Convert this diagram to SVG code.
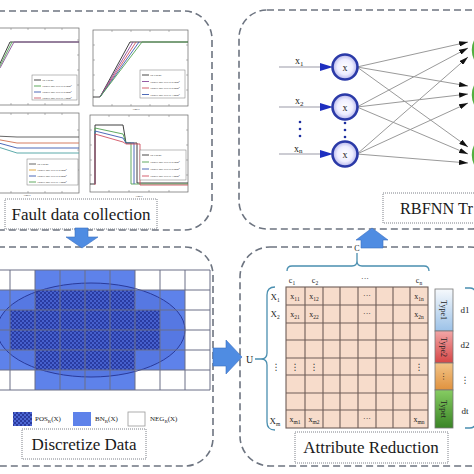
<svg xmlns="http://www.w3.org/2000/svg" width="474" height="474" viewBox="0 0 474 474">
<defs>
<style>
.panel{fill:none;stroke:#6d7480;stroke-width:1.6;stroke-dasharray:7 4}
.lab{fill:#fff;stroke:#7c8088;stroke-width:1;stroke-dasharray:1 1}
.big{font-family:"Liberation Serif",serif;font-size:17px;fill:#1a1a1a;text-anchor:middle}
.sm{font-family:"Liberation Serif",serif;fill:#222}
.ax{fill:#fff;stroke:#666;stroke-width:0.7}
.tk{stroke:#777;stroke-width:0.5;fill:none}
.lg{fill:#fff;stroke:#777;stroke-width:0.5}
.lt{font-family:"Liberation Serif",serif;font-size:2.6px;fill:#333}
.pl{fill:none;stroke-width:0.9}
.barrow{fill:#4f8ce2;stroke:#3a6fc0;stroke-width:0.6}
.in{stroke:#9a9aa8;stroke-width:1.2}
.out{stroke:#9a9a9a;stroke-width:1;marker-end:url(#ah)}
.neuron{fill:url(#ng);stroke:#2b3aa8;stroke-width:2.6}
.cell{fill:#f7dccb;stroke:#6e5d58;stroke-width:1.1}
.mt{font-family:"Liberation Serif",serif;font-size:8px;fill:#222;text-anchor:middle}
.dots{font-family:"DejaVu Sans",sans-serif;font-size:9px;fill:#333;text-anchor:middle}
.bn{fill:#5e82ea}
.pos{fill:url(#pos)}
</style>
<marker id="ah" viewBox="0 0 10 6" refX="10" refY="3" markerWidth="9" markerHeight="5.4" orient="auto" markerUnits="userSpaceOnUse"><path d="M0,0 L10,3 L0,6 z" fill="#111"/></marker>
<radialGradient id="ng"><stop offset="0" stop-color="#ffffff"/><stop offset="0.6" stop-color="#eeeeff"/><stop offset="1" stop-color="#b4b4ea"/></radialGradient>
<pattern id="pos" width="4" height="4" patternUnits="userSpaceOnUse"><rect width="4" height="4" fill="#4c66d2"/><rect width="2" height="2" fill="#2a3a9e"/><rect x="2" y="2" width="2" height="2" fill="#2a3a9e"/></pattern>
<linearGradient id="t1" x1="0" y1="0" x2="0" y2="1"><stop offset="0" stop-color="#f6f9fc"/><stop offset="1" stop-color="#9cc2e8"/></linearGradient>
<linearGradient id="t2" x1="0" y1="0" x2="0" y2="1"><stop offset="0" stop-color="#f2a6a6"/><stop offset="1" stop-color="#d64646"/></linearGradient>
<linearGradient id="t3" x1="0" y1="0" x2="0" y2="1"><stop offset="0" stop-color="#f2c488"/><stop offset="1" stop-color="#e0923e"/></linearGradient>
<linearGradient id="t4" x1="0" y1="0" x2="0" y2="1"><stop offset="0" stop-color="#86cc62"/><stop offset="1" stop-color="#3a8426"/></linearGradient>
</defs>
<rect width="474" height="474" fill="#fff"/>

<!-- Panel 1: Fault data collection -->
<g id="fault-data-collection">
<rect class="panel" x="-30" y="11" width="242" height="219" rx="28"/>
<!-- chart 1 -->
<rect class="ax" x="-20" y="28" width="99" height="77"/>
<path class="tk" d="M11,105v-2M28,105v-2M45,105v-2M62,105v-2M11,28v2M28,28v2M45,28v2M62,28v2M79,40h-2M79,55h-2M79,70h-2M79,85h-2"/>
<polyline class="pl" stroke="#2a2a2a" points="-4,72 10,42 79,42"/>
<polyline class="pl" stroke="#4aa04a" points="-2,70 12,42"/>
<polyline class="pl" stroke="#8a5a9a" stroke-width="1.4" points="0,68 14,42 79,42"/>
<rect class="lg" x="32" y="75" width="45" height="25"/>
<path class="pl" stroke="#333" d="M34,80h7"/><text class="lt" x="42" y="81">No leakage</text>
<path class="pl" stroke="#4aa04a" d="M34,86h7"/><text class="lt" x="42" y="87">Throttle hole area is 0.6mm²</text>
<path class="pl" stroke="#3a5ab0" d="M34,92h7"/><text class="lt" x="42" y="93">Throttle hole area is 0.8mm²</text>
<path class="pl" stroke="#c86070" d="M34,98h7"/><text class="lt" x="42" y="99">Throttle hole area is 1.2mm²</text>
<!-- chart 2 -->
<rect class="ax" x="93" y="30" width="95" height="76"/>
<path class="tk" d="M112,106v-2M131,106v-2M150,106v-2M169,106v-2M112,30v2M131,30v2M150,30v2M169,30v2M93,45h2M93,60h2M93,75h2M93,90h2M188,45h-2M188,60h-2M188,75h-2M188,90h-2"/>
<polyline class="pl" stroke="#2a2a2a" points="93,97 100,97 130,42 188,42"/>
<polyline class="pl" stroke="#8a4a9a" points="100,97 133,42"/>
<polyline class="pl" stroke="#d05060" points="100,97 136,42"/>
<polyline class="pl" stroke="#3a5ab0" points="100,97 139,42"/>
<polyline class="pl" stroke="#50a050" points="100,97 142,42 188,42"/>
<rect class="lg" x="140" y="70" width="45" height="28"/>
<path class="pl" stroke="#333" d="M142,75h7"/><text class="lt" x="150" y="76">No leakage</text>
<path class="pl" stroke="#8a4a9a" d="M142,81.5h7"/><text class="lt" x="150" y="82.5">Throttle hole area is 0.6mm²</text>
<path class="pl" stroke="#d05060" d="M142,88h7"/><text class="lt" x="150" y="89">Throttle hole area is 0.8mm²</text>
<path class="pl" stroke="#3a5ab0" d="M142,94.5h7"/><text class="lt" x="150" y="95.5">Throttle hole area is 1.2mm²</text>
<text class="lt" x="136" y="110" text-anchor="middle">Time/s</text>
<!-- chart 3 -->
<rect class="ax" x="-20" y="113" width="99" height="80"/>
<path class="tk" d="M11,193v-2M28,193v-2M45,193v-2M62,193v-2M11,113v2M28,113v2M45,113v2M62,113v2M79,130h-2M79,150h-2M79,170h-2"/>
<polyline class="pl" stroke="#555" points="-5,136 17,137 79,137"/>
<polyline class="pl" stroke="#d07050" points="-5,139 17,143 79,143"/>
<polyline class="pl" stroke="#3a5ab0" points="-5,142 17,148 79,148"/>
<polyline class="pl" stroke="#4aa0a0" points="-5,146 17,153 79,153"/>
<rect class="lg" x="27" y="159" width="51" height="26"/>
<path class="pl" stroke="#555" d="M29,164h7"/><text class="lt" x="37" y="165">No leakage</text>
<path class="pl" stroke="#e0a030" d="M29,170h7"/><text class="lt" x="37" y="171">Throttle hole area is 0.6mm²</text>
<path class="pl" stroke="#3a5ab0" d="M29,176h7"/><text class="lt" x="37" y="177">Throttle hole area is 0.8mm²</text>
<path class="pl" stroke="#50a050" d="M29,182h7"/><text class="lt" x="37" y="183">Throttle hole area is 1.2mm²</text>
<text class="lt" x="27" y="196" text-anchor="middle">Time/s</text>
<!-- chart 4 -->
<rect class="ax" x="90" y="115" width="98" height="77"/>
<path class="tk" d="M109,192v-2M129,192v-2M149,192v-2M169,192v-2M109,115v2M129,115v2M149,115v2M169,115v2M90,130h2M90,145h2M90,160h2M90,175h2M188,130h-2M188,145h-2M188,160h-2M188,175h-2"/>
<polyline class="pl" stroke="#2a2a2a" points="90,184 95,184 95,125 123,125 126,143 137,143 137,183 188,183"/>
<polyline class="pl" stroke="#50a050" points="95,184 95,128 123,134 126,143 131,143 131,184 188,184"/>
<polyline class="pl" stroke="#3a5ab0" points="95,184 95,131 123,138 126,143 134,143 134,184"/>
<polyline class="pl" stroke="#d05060" points="95,185 95,134 123,142 126,144 140,144 140,185 188,185"/>
<rect class="lg" x="140" y="150" width="46" height="30"/>
<path class="pl" stroke="#333" d="M142,155h7"/><text class="lt" x="150" y="156">No leakage</text>
<path class="pl" stroke="#50a050" d="M142,162h7"/><text class="lt" x="150" y="163">Throttle hole area is 0.6mm²</text>
<path class="pl" stroke="#3a5ab0" d="M142,169h7"/><text class="lt" x="150" y="170">Throttle hole area is 0.8mm²</text>
<path class="pl" stroke="#d05060" d="M142,176h7"/><text class="lt" x="150" y="177">Throttle hole area is 1.2mm²</text>
<text class="lt" x="139" y="197" text-anchor="middle">Time/s</text>
<rect class="lab" x="5" y="199" width="152" height="30"/>
<text class="big" x="81" y="220">Fault data collection</text>
</g>

<!-- Panel 2: RBFNN -->
<g id="rbfnn-training">
<rect class="panel" x="239" y="10" width="260" height="219" rx="28"/>
<circle cx="493" cy="50" r="20" fill="#e4f6dc" stroke="#52b040" stroke-width="2.5"/>
<circle cx="493" cy="95" r="20" fill="#e4f6dc" stroke="#52b040" stroke-width="2.5"/>
<circle cx="493" cy="155" r="20" fill="#e4f6dc" stroke="#52b040" stroke-width="2.5"/>
<g id="rbf-connectors">
<line class="out" x1="357" y1="67" x2="468" y2="42"/>
<line class="out" x1="357" y1="67" x2="468" y2="86"/>
<line class="out" x1="357" y1="67" x2="468" y2="147"/>
<line class="out" x1="357" y1="107" x2="468" y2="48"/>
<line class="out" x1="357" y1="107" x2="468" y2="94"/>
<line class="out" x1="357" y1="107" x2="468" y2="154"/>
<line class="out" x1="357" y1="154" x2="468" y2="57"/>
<line class="out" x1="357" y1="154" x2="468" y2="103"/>
<line class="out" x1="357" y1="154" x2="468" y2="163"/>
<line class="in" x1="279" y1="67" x2="322" y2="67"/>
<line class="in" x1="279" y1="107" x2="322" y2="107"/>
<line class="in" x1="279" y1="154" x2="322" y2="154"/>
<path d="M320,63 L333,67 L320,71 z M320,103 L333,107 L320,111 z M320,150 L333,154 L320,158 z" fill="#1e2fc0"/>
</g>
<g id="n1"><circle class="neuron" cx="345" cy="67" r="12.5"/><text class="sm" x="345" y="70.5" font-size="10" text-anchor="middle">x</text></g>
<g id="n2"><circle class="neuron" cx="345" cy="107" r="12.5"/><text class="sm" x="345" y="110.5" font-size="10" text-anchor="middle">x</text></g>
<g id="n3"><circle class="neuron" cx="345" cy="154" r="12.5"/><text class="sm" x="345" y="157.5" font-size="10" text-anchor="middle">x</text></g>
<text class="sm" x="295" y="64" font-size="10">x<tspan font-size="7" dy="2">1</tspan></text>
<text class="sm" x="295" y="104" font-size="10">x<tspan font-size="7" dy="2">2</tspan></text>
<text class="sm" x="294" y="152" font-size="10">x<tspan font-size="7" dy="1">n</tspan></text>
<g fill="#1e2fa0"><circle cx="300" cy="122" r="1.3"/><circle cx="300" cy="129" r="1.3"/><circle cx="300" cy="136" r="1.3"/><circle cx="345" cy="123" r="1.3"/><circle cx="345" cy="130" r="1.3"/><circle cx="345" cy="137" r="1.3"/></g>
<rect class="lab" x="383" y="193" width="100" height="30"/>
<text class="big" x="400" y="214" style="font-size:16.3px;text-anchor:start">RBFNN Tr</text>
</g>

<!-- Panel 3: Discretize Data -->
<g id="discretize-data">
<rect class="panel" x="-30" y="247" width="243" height="219" rx="28"/>
<rect x="-15" y="270" width="225" height="120" fill="#fff"/>
<rect class="bn" x="35" y="270" width="100" height="20"/>
<rect class="bn" x="-15" y="290" width="50" height="20"/>
<rect class="pos" x="35" y="290" width="100" height="20"/>
<rect class="bn" x="135" y="290" width="50" height="20"/>
<rect class="bn" x="-15" y="310" width="25" height="40"/>
<rect class="pos" x="10" y="310" width="150" height="40"/>
<rect class="bn" x="160" y="310" width="25" height="40"/>
<rect class="bn" x="-15" y="350" width="50" height="20"/>
<rect class="pos" x="35" y="350" width="100" height="20"/>
<rect class="bn" x="135" y="350" width="50" height="20"/>
<rect class="bn" x="35" y="370" width="100" height="20"/>
<ellipse cx="91" cy="330" rx="94" ry="47" fill="#2a40b8" fill-opacity="0.15" stroke="#2a3a9a" stroke-width="1"/>
<path d="M10,270V390M35,270V390M60,270V390M85,270V390M110,270V390M135,270V390M160,270V390M185,270V390M210,270V390M0,270H210M0,290H210M0,310H210M0,330H210M0,350H210M0,370H210M0,390H210" stroke="#6a6e86" stroke-width="1" fill="none"/>
<rect class="pos" x="13" y="412" width="19" height="14"/>
<text class="sm" x="35" y="421" font-size="7">POS<tspan font-size="5" dy="1.5">R</tspan><tspan dy="-1.5">(X)</tspan></text>
<rect class="bn" x="73" y="412" width="18" height="14"/>
<text class="sm" x="95" y="421" font-size="7">BN<tspan font-size="5" dy="1.5">R</tspan><tspan dy="-1.5">(X)</tspan></text>
<rect x="128" y="412" width="17" height="14" fill="#fff" stroke="#999" stroke-width="0.8"/>
<text class="sm" x="150" y="421" font-size="7">NEG<tspan font-size="5" dy="1.5">R</tspan><tspan dy="-1.5">(X)</tspan></text>
<rect class="lab" x="22" y="429" width="124" height="30"/>
<text class="big" x="84" y="450">Discretize Data</text>
</g>

<!-- Panel 4: Attribute Reduction -->
<g id="attribute-reduction">
<rect class="panel" x="240" y="247" width="260" height="219" rx="30"/>
<rect x="352" y="243" width="10" height="9" fill="#fff"/>
<text class="sm" x="357" y="251" font-size="8" text-anchor="middle" fill="#555">C</text>
<path d="M287,271 Q287,266 292,266 L352,266 Q357,266 357,261 L357,253 M357,261 Q357,266 362,266 L424,266 Q429,266 429,271" fill="none" stroke="#4a8fb0" stroke-width="1.3"/>
<text class="sm" x="292" y="283" font-size="8" text-anchor="middle">c<tspan font-size="5.5" dy="1.5">1</tspan></text>
<text class="sm" x="315" y="283" font-size="8" text-anchor="middle">c<tspan font-size="5.5" dy="1.5">2</tspan></text>
<text class="sm" x="365" y="281" font-size="8" text-anchor="middle">···</text>
<text class="sm" x="419" y="283" font-size="8" text-anchor="middle">c<tspan font-size="5.5" dy="1.5">n</tspan></text>
<rect class="cell" x="286" y="287" width="142" height="141"/>
<path d="M305,287V428M323,287V428M340,287V428M358,287V428M376,287V428M393,287V428M410,287V428M286,305H428M286,323H428M286,340H428M286,358H428M286,375H428M286,393H428M286,410H428" stroke="#6e5d58" stroke-width="1.1" fill="none"/>
<text class="mt" x="295" y="299">x<tspan font-size="5.5" dy="1.5">11</tspan></text>
<text class="mt" x="314" y="299">x<tspan font-size="5.5" dy="1.5">12</tspan></text>
<text class="mt" x="367" y="298">···</text>
<text class="mt" x="419" y="299">x<tspan font-size="5.5" dy="1.5">1n</tspan></text>
<text class="mt" x="295" y="317">x<tspan font-size="5.5" dy="1.5">21</tspan></text>
<text class="mt" x="314" y="317">x<tspan font-size="5.5" dy="1.5">22</tspan></text>
<text class="mt" x="367" y="316">···</text>
<text class="mt" x="419" y="317">x<tspan font-size="5.5" dy="1.5">2n</tspan></text>
<text class="dots" x="295" y="370">⋮</text>
<text class="dots" x="314" y="370">⋮</text>
<text class="dots" x="419" y="370">⋮</text>
<text class="mt" x="295" y="422">x<tspan font-size="5.5" dy="1.5">m1</tspan></text>
<text class="mt" x="314" y="422">x<tspan font-size="5.5" dy="1.5">m2</tspan></text>
<text class="mt" x="367" y="421">···</text>
<text class="mt" x="419" y="422">x<tspan font-size="5.5" dy="1.5">mn</tspan></text>
<path d="M275,287 Q267,287 267,295 L267,353 Q267,359 261,359 L255,359 M261,359 Q267,359 267,365 L267,422 Q267,430 275,430" fill="none" stroke="#4a8fb0" stroke-width="1.3"/>
<text class="sm" x="246" y="363" font-size="10">U</text>
<text class="sm" x="275" y="300" font-size="9" text-anchor="middle">X<tspan font-size="5.5" dy="1.5">1</tspan></text>
<text class="sm" x="275" y="317" font-size="9" text-anchor="middle">X<tspan font-size="5.5" dy="1.5">2</tspan></text>
<text class="dots" x="276" y="370">⋮</text>
<text class="sm" x="275" y="424" font-size="9" text-anchor="middle">X<tspan font-size="5.5" dy="1.5">m</tspan></text>
<rect x="435" y="289" width="18" height="42" fill="url(#t1)" stroke="#777" stroke-width="0.8"/>
<rect x="435" y="331" width="18" height="32" fill="url(#t2)" stroke="#777" stroke-width="0.8"/>
<rect x="435" y="363" width="18" height="27" fill="url(#t3)" stroke="#777" stroke-width="0.8"/>
<rect x="435" y="390" width="18" height="38" fill="url(#t4)" stroke="#777" stroke-width="0.8"/>
<text class="sm" font-size="8" text-anchor="middle" transform="translate(444,310) rotate(90)" dy="3">Type1</text>
<text class="sm" font-size="8" text-anchor="middle" transform="translate(444,347) rotate(90)" dy="3">Type2</text>
<text class="sm" font-size="8" text-anchor="middle" transform="translate(444,376.5) rotate(90)" dy="3">···</text>
<text class="sm" font-size="8" text-anchor="middle" transform="translate(444,409) rotate(90)" dy="3">Typet</text>
<text class="sm" x="465" y="313" font-size="9" text-anchor="middle">d1</text>
<text class="sm" x="465" y="348" font-size="9" text-anchor="middle">d2</text>
<text class="dots" x="465" y="383">⋮</text>
<text class="sm" x="465" y="414" font-size="9" text-anchor="middle">dt</text>
<path d="M465,288 L470,288 Q476,288 476,296 L476,420 Q476,428 470,428 L465,428" fill="none" stroke="#4a8fb0" stroke-width="1.3"/>
<rect class="lab" x="295" y="432" width="153" height="31"/>
<text class="big" x="371" y="453">Attribute Reduction</text>
</g>

<!-- Flow arrows -->
<g id="connectors">
<path class="barrow" d="M75,228 H88 V237 H98 L82,248 L66,237 H75 Z"/>
<path class="barrow" d="M213,348 H226 V340 L242,357 L226,374 V366 H213 Z"/>
<path class="barrow" d="M361,248 V240 H356 L372,228 L388,240 H383 V248 Z"/>
</g>
</svg>
